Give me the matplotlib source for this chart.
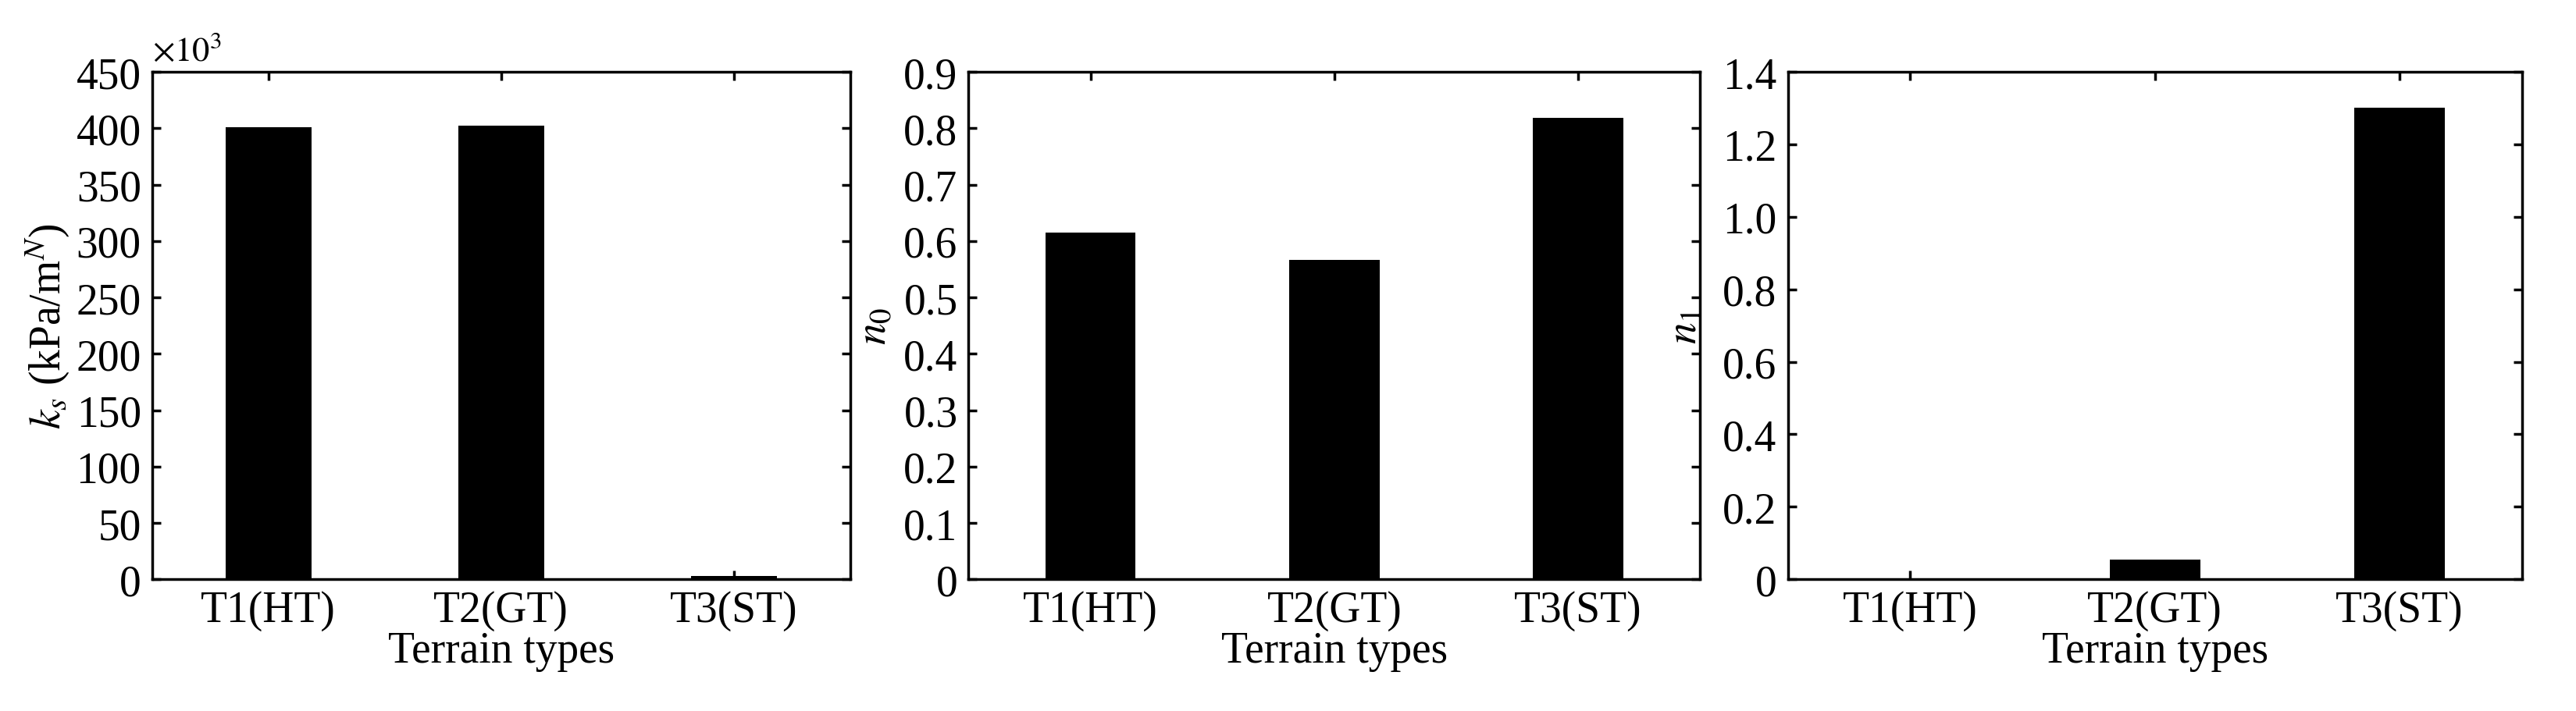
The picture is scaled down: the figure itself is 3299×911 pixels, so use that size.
import matplotlib
matplotlib.use('Agg')
from matplotlib import pyplot as plt
import numpy as np

plt.rcParams['font.family'] = ['Liberation Serif', 'DejaVu Serif']
plt.rcParams['mathtext.fontset'] = 'stix'
plt.rcParams['font.size'] = 40

# data
terrains = ['T1(HT)', 'T2(GT)', 'T3(ST)']
ks_vals = [401, 402, 3]          # x10^3 kPa/m^N
n0_vals = [0.615, 0.567, 0.818]
n1_vals = [0.0, 0.055, 1.30]

fig = plt.figure(figsize=(32.99, 9.12), dpi=100)
boxes = [[0.059, 0.185, 0.271, 0.713],
         [0.376, 0.185, 0.284, 0.713],
         [0.694, 0.185, 0.285, 0.713]]

panels = [
    (ks_vals, r'$k_s$ (kPa/m$^N$)', (0, 450), np.arange(0, 451, 50), None, 4),
    (n0_vals, r'$n_0$', (0, 0.9), np.arange(0, 0.91, 0.1), '%.1f', 8),
    (n1_vals, r'$n_1$', (0, 1.4), np.arange(0, 1.41, 0.2), '%.1f', 16),
]

x = np.arange(1, 4)
for box, (vals, ylab, ylim, yticks, fmt, lp) in zip(boxes, panels):
    ax = fig.add_axes(box)
    ax.bar(x, vals, width=0.37, color='black')
    ax.set_xlim(0.5, 3.5)
    ax.set_ylim(*ylim)
    ax.set_xticks(x)
    ax.set_xticklabels(terrains)
    ax.set_yticks(yticks)
    labels = []
    for v in yticks:
        if fmt is None:
            labels.append('%d' % round(v))
        else:
            labels.append('0' if abs(v) < 1e-9 else fmt % v)
    ax.set_yticklabels(labels)
    ax.tick_params(direction='in', top=True, right=True, length=8, width=2.5, pad=10)
    for s in ax.spines.values():
        s.set_linewidth(2.5)
    ax.set_xlabel('Terrain types', labelpad=0)
    ax.set_ylabel(ylab, labelpad=lp)
    if fmt is None:
        ax.text(0.0, 1.01, r'$\times10^3$', transform=ax.transAxes, ha='left', va='bottom', fontsize=32)

fig.savefig('out.png', dpi=100)
